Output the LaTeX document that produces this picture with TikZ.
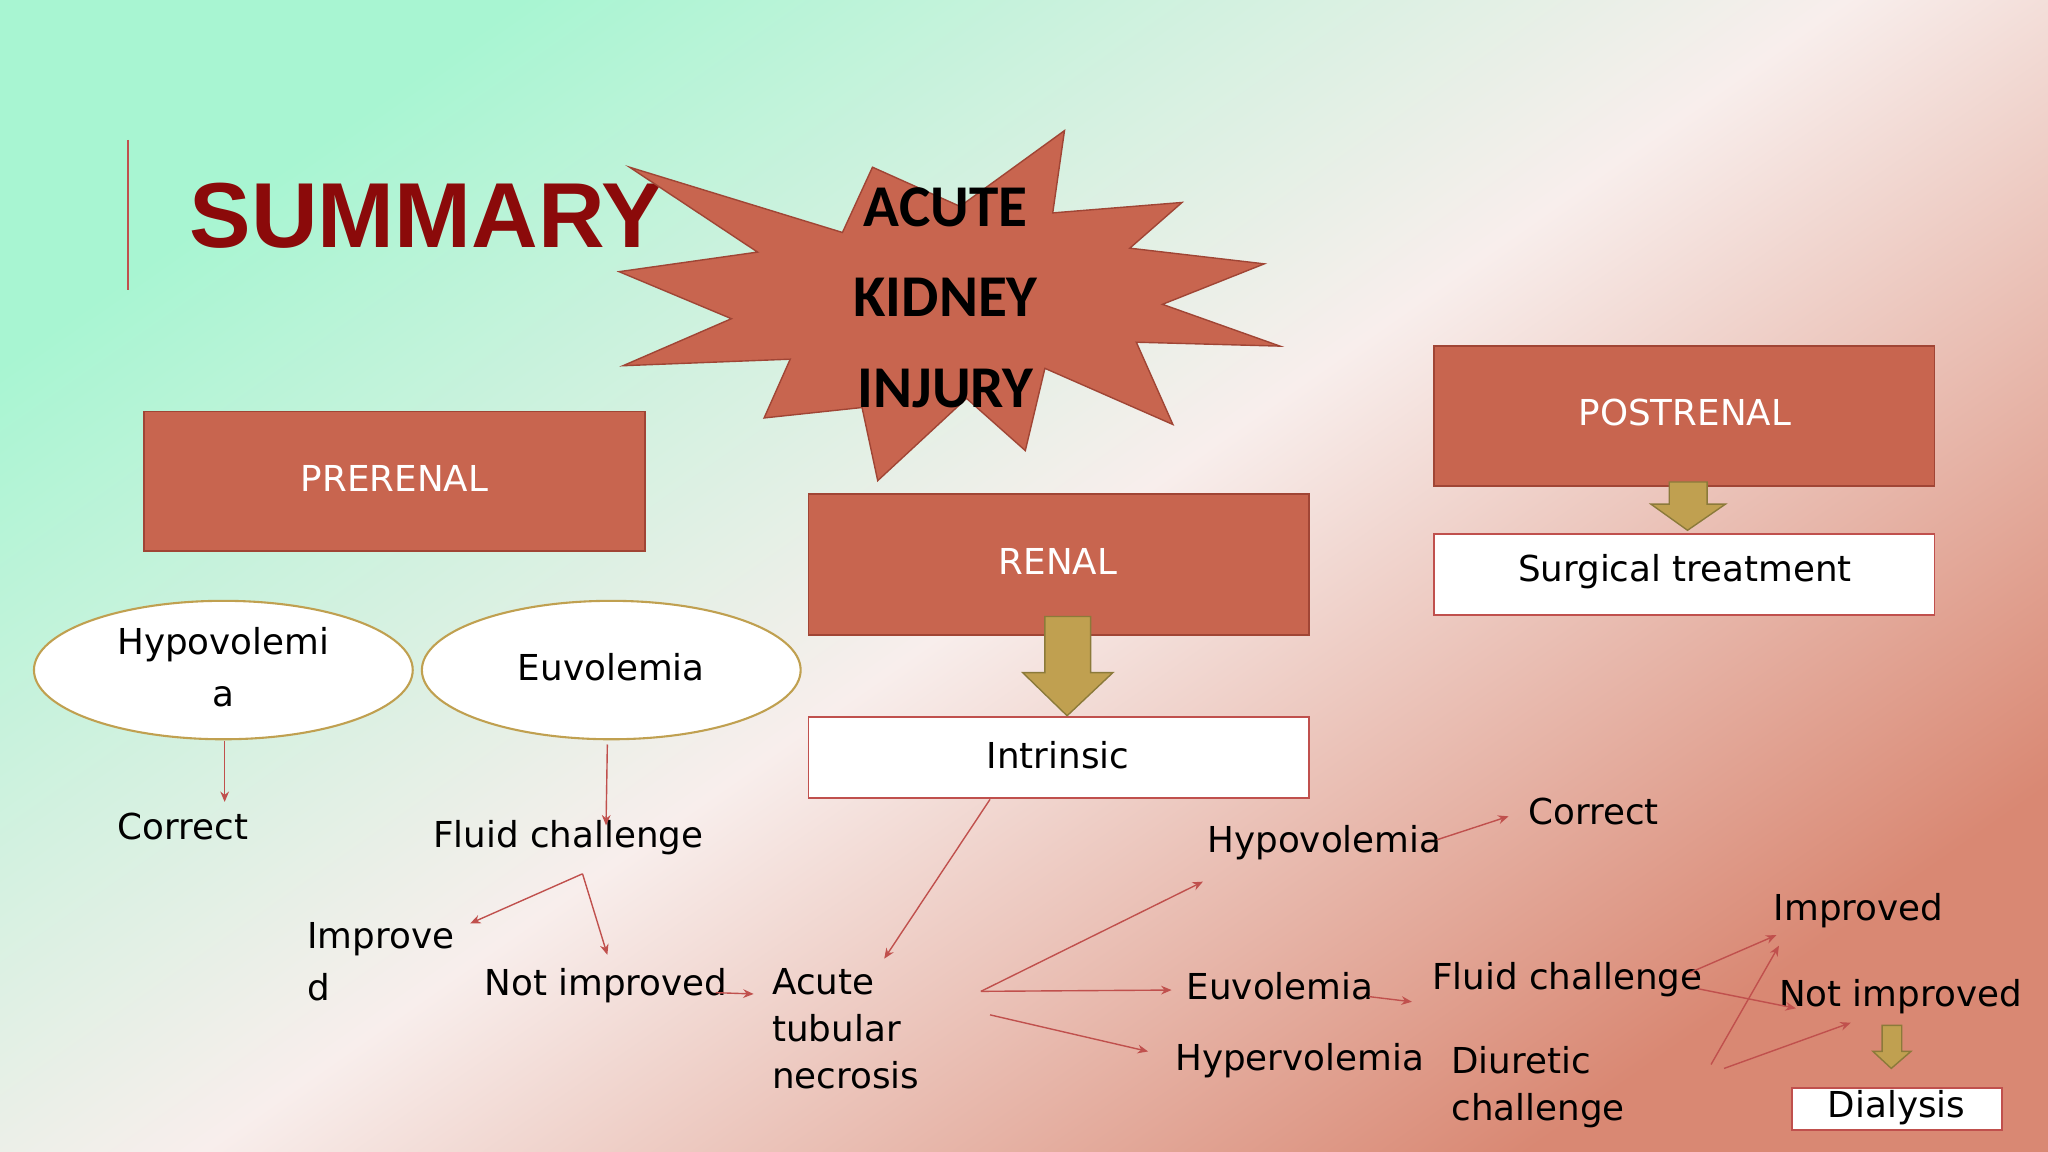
\documentclass[tikz,border=0pt]{standalone}
\usepackage{fontspec}
\setmainfont{DejaVu Sans}
\newfontfamily\titlefont{Liberation Sans}
\newfontfamily\burstfont{Carlito}
\usetikzlibrary{arrows.meta}
\definecolor{boxred}{HTML}{C8654F}
\definecolor{boxedge}{HTML}{A04535}
\definecolor{gold}{HTML}{C0A050}
\definecolor{goldedge}{HTML}{8B7A3A}
\definecolor{lnred}{HTML}{C0504D}
\definecolor{titlered}{HTML}{8B0A0A}
\definecolor{bggreen}{HTML}{A8F5D2}
\definecolor{bgred}{HTML}{D98873}
\definecolor{bgmid}{HTML}{F8EEEC}
\tikzset{
  redbox/.style={draw=boxedge,fill=boxred,line width=1pt},
  whitebox/.style={draw=lnred,fill=white,line width=1pt},
  boxtxt/.style={font=\fontsize{20.5}{24}\selectfont,text=white},
  txt/.style={font=\fontsize{20.5}{24}\selectfont,text=black,inner sep=0pt},
  ltxt/.style={txt,align=left,anchor=north west},
  conn/.style={draw=lnred,line width=0.8pt,-{Stealth[length=6pt,width=5pt]}},
  blockarrow/.style={fill=gold,draw=goldedge,line width=0.8pt},
  oval/.style={draw=gold,fill=white,line width=1.2pt}
}
\begin{document}
\begin{tikzpicture}[x=0.75pt,y=-0.75pt]
\useasboundingbox (0,0) rectangle (1568,882);
\begin{scope}[x=0.75pt,y=0.75pt]
\shade[top color=bggreen, bottom color=bgred, middle color=bgmid, shading angle=35] (0,-882) rectangle (1568,0);
\end{scope}
% title
\draw[lnred,line width=1.5pt] (98,107)--(98,222);
\node[font=\titlefont\bfseries\fontsize{53}{56}\selectfont,text=titlered,anchor=west,inner sep=0pt] (title) at (145,165) {SUMMARY};
% starburst
\draw[redbox,line width=0.8pt] (482,128)--(645,178)--(668,128)--(735,158)--(815,100)--(806,163)--(905,155)--(865,190)--(968,202)--(890,233)--(980,265)--(870,262)--(898,325)--(800,282)--(785,345)--(740,305)--(672,368)--(660,312)--(585,320)--(605,275)--(477,280)--(560,244)--(474,208)--(580,193)--cycle;
\node[font=\burstfont\bfseries\fontsize{34}{52}\selectfont,align=center] (aki) at (724,228) {ACUTE\\KIDNEY\\INJURY};
% boxes
\draw[redbox] (110,315) rectangle (494,422); \node[boxtxt] (pre) at (302,366) {PRERENAL};
\draw[redbox] (619,378) rectangle (1002,486); \node[boxtxt] (ren) at (810,430) {RENAL};
\draw[redbox] (1098,265) rectangle (1481,372); \node[boxtxt] (post) at (1290,316) {POSTRENAL};
\draw[whitebox] (1098,409) rectangle (1481,471); \node[txt] (surg) at (1290,438) {Surgical treatment};
\draw[whitebox] (619,549) rectangle (1002,611); \node[txt] (intr) at (810,578) {Intrinsic};
\draw[whitebox] (1372,833) rectangle (1533,865); \node[txt] (dial) at (1452,848) {Dialysis};
% block arrows
\draw[blockarrow] (800,472)--(835,472)--(835,515)--(852,515)--(817,548)--(783,515)--(800,515)--cycle;
\draw[blockarrow] (1278,369)--(1307,369)--(1307,386)--(1321,386)--(1292,406)--(1264,386)--(1278,386)--cycle;
\draw[blockarrow] (1441,785)--(1456,785)--(1456,805)--(1463,805)--(1448,818)--(1434,805)--(1441,805)--cycle;
% ovals
\draw[oval] (171,513) ellipse [x radius=145,y radius=53];
\node[txt,align=center] (hypo1) at (171,511) {Hypovolemi\\[6pt]a};
\draw[oval] (468,513) ellipse [x radius=145,y radius=53];
\node[txt] (euv1) at (468,511) {Euvolemia};
% left texts
\node[txt] (corr1) at (140,633) {Correct};
\node[txt] (fc1) at (435,641) {Fluid challenge};
\node[ltxt] (imp1) at (235,706) {Improve\\[6pt]d};
\node[txt] (ni1) at (464,755) {Not improved};
\node[ltxt] (atn) at (591,741) {Acute\\[3pt]tubular\\[3pt]necrosis};
\draw[conn] (172,567)--(172,614);
\draw[conn] (465,570)--(464,632);
\coordinate (fork) at (446,669);
\draw[conn] (fork)--(360,707);
\draw[conn] (fork)--(465,731);
\draw[conn] (548,760)--(577,761);
\draw[conn] (758,612)--(677,734);
% middle right
\node[txt] (hypo2) at (1014,645) {Hypovolemia};
\node[txt] (corr2) at (1220,621) {Correct};
\node[txt] (euv2) at (980,755) {Euvolemia};
\node[txt] (fc2) at (1200,750) {Fluid challenge};
\node[txt] (hyper) at (995,812) {Hypervolemia};
\node[ltxt] (diur) at (1111,801) {Diuretic\\[3pt]challenge};
\node[txt] (imp2) at (1423,697) {Improved};
\node[txt] (ni2) at (1455,763) {Not improved};
\draw[conn] (751,759)--(921,675);
\draw[conn] (751,759)--(897,758);
\draw[conn] (758,777)--(879,805);
\draw[conn] (1100,643)--(1155,625);
\draw[conn] (1048,763)--(1081,767);
\draw[conn] (1293,745)--(1360,716);
\draw[conn] (1300,757)--(1375,772);
\draw[conn] (1310,815)--(1362,724);
\draw[conn] (1320,818)--(1417,783);
\end{tikzpicture}
\end{document}
